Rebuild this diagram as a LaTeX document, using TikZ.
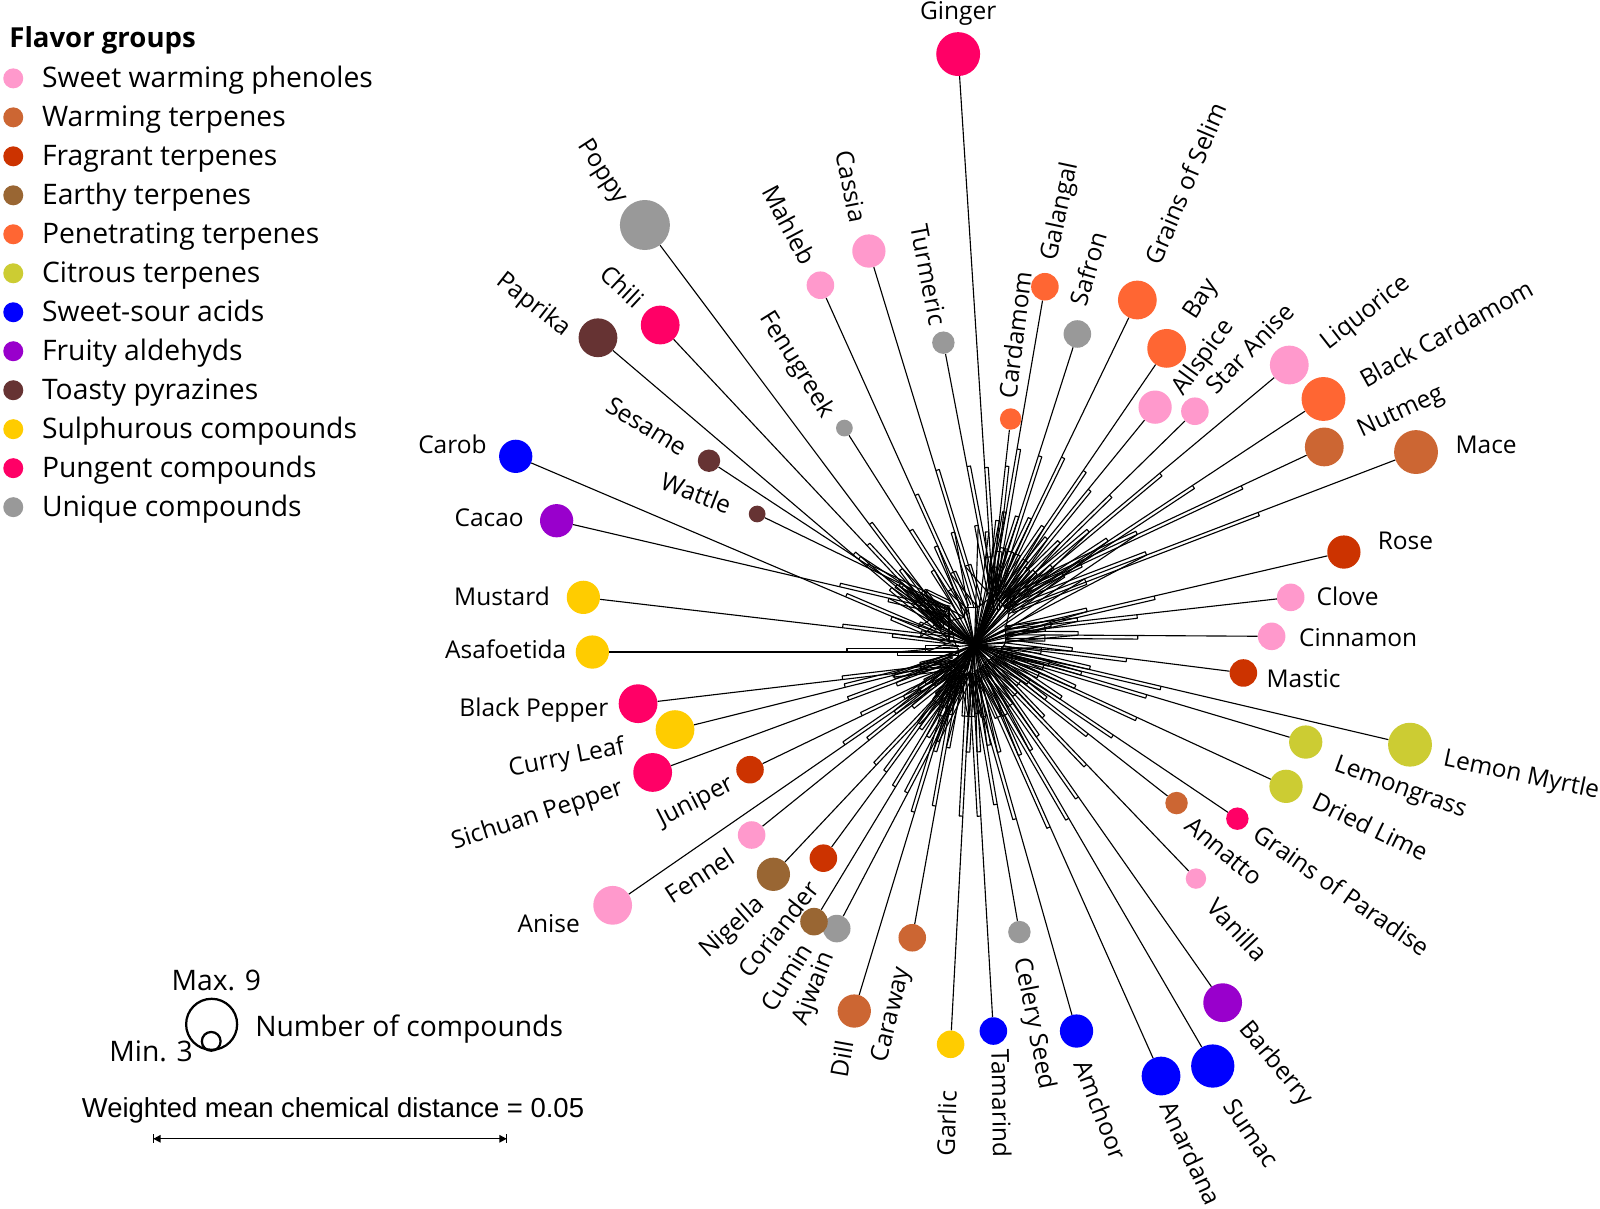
\documentclass[tikz,border=0pt]{standalone}
\usepackage{fontspec}
\setmainfont{Open Sans}
\newfontfamily\arialf{Liberation Sans}
\usetikzlibrary{calc}
\pgfdeclarelayer{back}
\pgfdeclarelayer{bg}
\pgfsetlayers{back,bg,main}
\definecolor{swp}{HTML}{FF99CC}
\definecolor{wtp}{HTML}{CC6633}
\definecolor{frt}{HTML}{CC3300}
\definecolor{eat}{HTML}{996633}
\definecolor{pet}{HTML}{FF6633}
\definecolor{cit}{HTML}{CCCC33}
\definecolor{ssa}{HTML}{0000FF}
\definecolor{fal}{HTML}{9900CC}
\definecolor{tpy}{HTML}{663333}
\definecolor{sul}{HTML}{FFCC00}
\definecolor{pun}{HTML}{FF0066}
\definecolor{unq}{HTML}{999999}
\begin{document}
\begin{tikzpicture}[x=1pt,y=1pt,
  edge/.style={line width=1.1pt,line join=round},
  core/.style={line width=1.4pt,line join=round},
  leafnode/.style={circle,inner sep=0pt,draw=none},
  lbl/.style={inner sep=0pt,font=\fontsize{24}{28}\selectfont,text height=17pt,text depth=0pt},
  legtxt/.style={inner sep=0pt,font=\fontsize{27.7}{32}\selectfont,anchor=base west}]
\begin{pgfonlayer}{back}
\fill[white] (0,0) rectangle (1568,-1184);
\end{pgfonlayer}
\useasboundingbox (0,0) rectangle (1568,-1184);
\coordinate (C) at (955,-632);

\foreach \n/\x/\y/\rad/\col/\lab/\rot/\pa/\an/\gp/\dy/\tx/\ty/\dd in {
 ginger/939/53/21.5/pun/Ginger/0/90/south/12.5/0/974/598/140,
 cardamom/990.4/410.6/10.5/pet/Cardamom/83/98/west/10/0/972/576/120,
 galangal/1024/281/13.5/pet/Galangal/78/83/west/13/0/973/578/140,
 safron/1055.8/327.3/13.5/unq/Safron/74/88/west/15/0/975/580/140,
 gos/1114.6/294/19/pet/Grains of Selim/67/68/west/20/0/975/583/150,
 bay/1143.3/341.4/19/pet/Bay/57/57/west/19/0/977/585/150,
 allspice/1132/399/16.3/swp/Allspice/54/36/west/9.6/0/978/588/140,
 staranise/1171/403/13.5/swp/Star Anise/46/55/west/12/0/980/590/150,
 liquorice/1263.5/357.7/19/swp/Liquorice/38/32/west/20/0/983/592/200,
 blackcard/1297/391/21.5/pet/Black Cardamom/29/25.5/west/20/0/985/597/220,
 nutmeg/1297.8/438/19/wtp/Nutmeg/25/27/west/18/0/990/582/250,
 mace/1387.7/443/21.5/wtp/Mace/0/0/west/17/-7/990/595/260,
 rose/1317/541/16.3/frt/Rose/0/0/west/16.7/-11/985/618/150,
 clove/1264.9/585.4/13.5/swp/Clove/0/0/west/11.6/-1/985/617/130,
 cinnamon/1246.2/623.6/13.5/swp/Cinnamon/0/0/west/13.3/1/985/622/130,
 mastic/1218.5/659.5/13.5/frt/Mastic/0/0/west/9/5.5/985/630/120,
 lemonmyrtle/1381.8/729.8/21.5/cit/Lemon Myrtle/-12/-20/west/14/0/982/636/160,
 lemongrass/1279.6/727.2/16.3/cit/Lemongrass/-20/-34/west/19/0/980/638/150,
 driedlime/1260.3/770.6/16.3/cit/Dried Lime/-26/-25/west/14/0/978/640/150,
 gop/1212.6/802.3/11/pun/Grains of Paradise/-35/-33/west/11.4/0/975/642/140,
 annatto/1153/787/11/wtp/Annatto/-40/-56/west/10.6/0/972/645/120,
 vanilla/1172/861/10/swp/Vanilla/-47/-57/west/18/0/968/648/140,
 barberry/1198.2/982.6/19/fal/Barberry/-50/-44/west/11/0/965/650/160,
 sumac/1188.5/1044.7/21.2/ssa/Sumac/-56/-64/west/17/0/962/655/170,
 anardana/1137.8/1054.5/19/ssa/Anardana/-65/-77.5/west/8/0/960/655/170,
 amchoor/1055/1010.4/16.3/ssa/Amchoor/-69/-80/west/13.5/0/955/658/150,
 celery/999/913.4/11/unq/Celery Seed/-79/-81/west/14/0/955/660/130,
 tamarind/973.5/1010.4/13.5/ssa/Tamarind/-89/-70/west/5.5/0/953/660/140,
 garlic/931.6/1023.4/13.5/sul/Garlic/88/267/east/32/0/951/660/140,
 caraway/894/919/13.5/wtp/Caraway/76/250/east/17/0/940/662/130,
 dill/837.2/990.8/16.3/wtp/Dill/80/253/east/14/0/937/662/140,
 ajwain/820/910/13.5/unq/Ajwain/68/247/east/12/0/950/662/130,
 cumin/797.7/903.2/13.5/eat/Cumin/58/253/east/11/0/945/660/130,
 coriander/806.9/841/13.5/frt/Coriander/52/250/east/14/0/940/660/120,
 nigella/757.9/856.8/16.3/eat/Nigella/42/243/east/12/0/948/655/130,
 fennel/736.6/818.3/13.5/swp/Fennel/33/226/east/14/0/945/650/120,
 anise/600.4/887.2/19/swp/Anise/0/180/east/13/18/935/656/130,
 juniper/735/754.3/13.5/frt/Juniper/27/212/east/8/0/935/658/100,
 sichuan/639.6/757/19/pun/Sichuan Pepper/18/204/east/14/0/935/648/110,
 curryleaf/661.5/715/19/sul/Curry Leaf/11/197/east/33/0/935/647/110,
 blackpepper/625.3/689.6/19/pun/Black Pepper/0/180/east/10/4.4/935/653/110,
 asafoetida/580.5/639/16.3/sul/Asafoetida/0/180/east/9/-2.5/940/639/110,
 mustard/571.7/585.4/16.3/sul/Mustard/0/180/east/16.4/-1/935/628/110,
 cacao/545.5/510.3/16.3/fal/Cacao/0/180/east/15.7/-3/930/600/110,
 carob/505.4/447.2/16.3/ssa/Carob/0/180/east/12/-11/930/628/110,
 wattle/742/503.7/8.2/tpy/Wattle/-21/165/east/19/0/930/595/90,
 sesame/694.8/451.5/11/tpy/Sesame/-32/156/east/15/0/925/603/100,
 paprika/586/331/19/tpy/Paprika/-38/165/east/11/0/920/615/110,
 chili/647/318.5/19/pun/Chili/-43/133/east/10/0/925/615/110,
 poppy/632/220.5/24.5/unq/Poppy/-57/131/east/7/0/924/610/120,
 fenugreek/827.5/419.5/8.2/unq/Fenugreek/-58/137/east/11/0/945/605/100,
 mahleb/804/279.5/13.5/swp/Mahleb/-62/117/east/10.7/0/946/595/120,
 cassia/851.5/246/16.3/swp/Cassia/-79/110/east/14/0/958/595/140,
 turmeric/924.5/335.8/11/unq/Turmeric/-79/106/east/7/0/972/585/130}{
  \pgfmathsetmacro\dia{2*\rad}
  \pgfmathsetmacro\ddb{0.55*\dd}
  \pgfmathsetmacro\ddc{0.3*\dd}
  \pgfmathsetmacro\ldist{\rad+\gp}
  \pgfmathsetmacro\ldy{-1*(\dy)}
  \node[leafnode,fill=\col,minimum size=\dia pt] (\n) at (\x,-\y) {};
  \coordinate (\n-T) at (\tx,-\ty);
  \coordinate (\n-I) at ($(\n-T)!\dd pt!(\n)$);
  \coordinate (\n-J) at ($(\n-T)!\ddb pt!(\n)$);
  \coordinate (\n-K) at ($(\n-T)!\ddc pt!(\n)$);
  \begin{pgfonlayer}{bg}
  \draw[edge] (\n) -- (\n-T);
  \draw[core] (\n-T) -- (C);
  \draw[edge] (\n-J) -- (C);
  \draw[edge] (\n-I) -- ($(\n-I)!3.5pt!90:(\n-T)$) -- ($(\n-T)!3.5pt!-90:(\n-I)$);
  \draw[edge] (\n-J) -- ($(\n-J)!3.5pt!-90:(\n-T)$) -- ($(\n-T)!3.5pt!90:(\n-J)$);
  \draw[edge] (\n-K) -- ($(\n-K)!6pt!90:(\n-T)$) -- ($(\n-T)!6pt!-90:(\n-K)$);
  \end{pgfonlayer}
  \node[lbl,rotate=\rot,anchor=\an] (\n-lab) at ($(\n.center)+(\pa:\ldist)+(0,\ldy)$) {\lab};
}

\begin{pgfonlayer}{bg}
\foreach \n [remember=\n as \prev (initially turmeric)] in {ginger,cardamom,galangal,safron,gos,bay,allspice,staranise,liquorice,blackcard,nutmeg,mace,rose,clove,cinnamon,mastic,lemonmyrtle,lemongrass,driedlime,gop,annatto,vanilla,barberry,sumac,anardana,amchoor,celery,tamarind,garlic,caraway,dill,ajwain,cumin,coriander,nigella,fennel,anise,juniper,sichuan,curryleaf,blackpepper,asafoetida,mustard,cacao,carob,wattle,sesame,paprika,chili,poppy,fenugreek,mahleb,cassia,turmeric}{
  \draw[edge] (\prev-T) -- (\n-T);
  \draw[edge] (\prev-K) -- (\n-T);
}
\end{pgfonlayer}

% legend
\node[anchor=base west,inner sep=0pt,font=\bfseries\fontsize{27}{32}\selectfont] (title) at (9,-46.8) {Flavor groups};
\foreach \i/\col/\lab in {0/swp/Sweet warming phenoles,1/wtp/Warming terpenes,2/frt/Fragrant terpenes,3/eat/Earthy terpenes,4/pet/Penetrating terpenes,5/cit/Citrous terpenes,6/ssa/Sweet-sour acids,7/fal/Fruity aldehyds,8/tpy/Toasty pyrazines,9/sul/Sulphurous compounds,10/pun/Pungent compounds,11/unq/Unique compounds}{
  \pgfmathsetmacro\ly{-(76.8+38.2*\i)}
  \node[circle,fill=\col,inner sep=0pt,minimum size=19.6pt] (lg\i) at (13,\ly) {};
  \node[legtxt] (lgt\i) at ($(lg\i)+(28,-9)$) {\lab};
}

% size legend
\node[circle,draw,line width=2.2pt,inner sep=0pt,minimum size=50pt] (maxc) at (207.4,-1003.8) {};
\node[circle,draw,line width=2.2pt,inner sep=0pt,minimum size=18.4pt] (minc) at (207,-1020.5) {};
\node[legtxt] (maxt) at (168,-971) {Max. 9};
\node[legtxt] (mint) at (107,-1040.6) {Min. 3};
\node[legtxt] (numt) at (250,-1015.7) {Number of compounds};

% scale bar
\node[anchor=base west,inner sep=0pt,font=\arialf\fontsize{26.9}{30}\selectfont] (sbt) at (80,-1095.3) {Weighted mean chemical distance = 0.05};
\coordinate (sbL) at (150.3,-1116);
\coordinate (sbR) at (496.5,-1116);
\draw[line width=1.1pt] (sbL) -- (sbR);
\draw[line width=1.3pt] ([yshift=4.5pt]sbL) -- ([yshift=-4.5pt]sbL);
\draw[line width=1.3pt] ([yshift=4.5pt]sbR) -- ([yshift=-4.5pt]sbR);
\fill (sbL) -- ([xshift=7pt,yshift=3.8pt]sbL) -- ([xshift=7pt,yshift=-3.8pt]sbL) -- cycle;
\fill (sbR) -- ([xshift=-7pt,yshift=3.8pt]sbR) -- ([xshift=-7pt,yshift=-3.8pt]sbR) -- cycle;
\end{tikzpicture}
\end{document}
